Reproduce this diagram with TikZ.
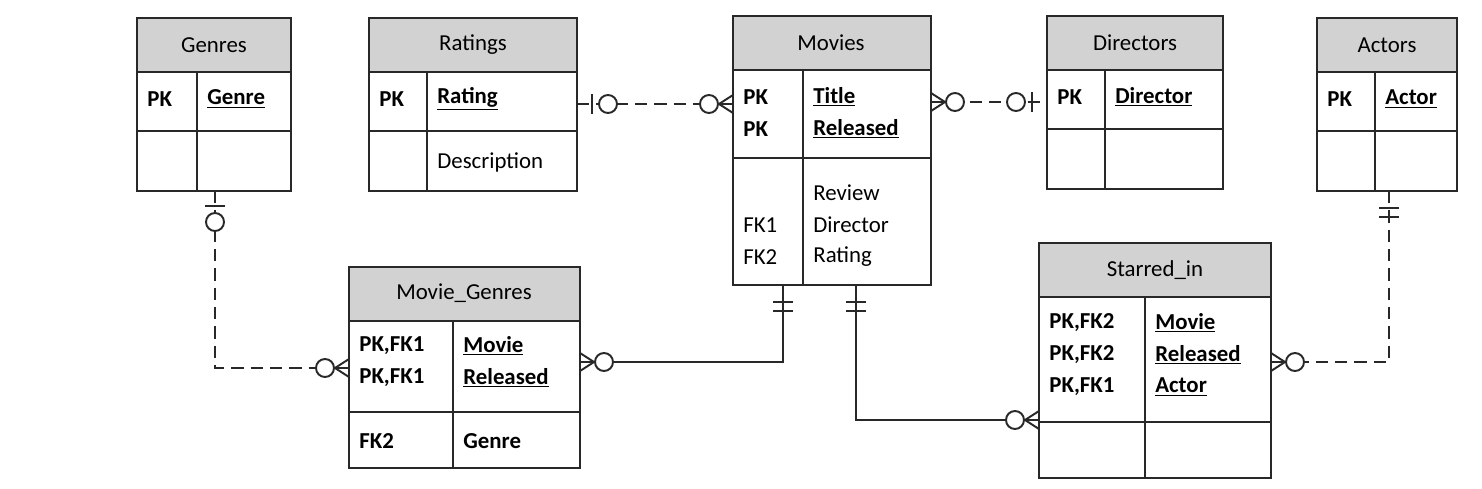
\documentclass[tikz,border=0pt]{standalone}
\usepackage{fontspec}
\setmainfont{Carlito}
\usetikzlibrary{calc}
\definecolor{headgray}{RGB}{210, 210, 210}
\definecolor{linegray}{RGB}{40, 40, 40}

\tikzset{
  px/.style={x=0.02cm, y=0.02cm},
  tbl/.style={draw=linegray, line width=1pt},
  head/.style={fill=headgray},
  txt/.style={anchor=west, inner sep=0pt, font=\fontsize{13}{15}\selectfont},
  ttl/.style={inner sep=0pt, font=\fontsize{13}{15}\selectfont},
  rel/.style={line width=1.1pt, draw=linegray},
  reldash/.style={rel, dash pattern=on 7pt off 4pt},
  crowo/.pic={
    \draw[rel] (0,9) -- (14,0) -- (0,-9) (0,0) -- (14,0);
    \draw[rel, fill=white] (24,0) circle (0.18cm);
  },
  baro/.pic={
    \draw[rel] (15,10) -- (15,-10);
    \draw[rel, fill=white] (31,0) circle (0.18cm);
  },
  barbar/.pic={
    \draw[rel] (17,10) -- (17,-10) (26,10) -- (26,-10);
  }
}
\newcommand{\key}[1]{\textbf{\underline{#1}}}

\begin{document}
\begin{tikzpicture}[px]

  \useasboundingbox (0,0) rectangle (1482,-488);

  % Genres
  \fill[head] (137,-18) rectangle (291,-72);
  \draw[tbl] (137,-18) rectangle (291,-191);
  \draw[tbl] (137,-72) -- (291,-72) (137,-131) -- (291,-131) (197,-72) -- (197,-191);
  \node[ttl] (genres) at (214,-45) {Genres};
  \node[txt] at (147,-99) {\textbf{PK}};
  \node[txt] at (207,-99) {\key{Genre}};
  \coordinate (genres-s) at (215,-191);

  % Ratings
  \fill[head] (369,-18) rectangle (577,-72);
  \draw[tbl] (369,-18) rectangle (577,-191);
  \draw[tbl] (369,-72) -- (577,-72) (369,-131) -- (577,-131) (427,-72) -- (427,-191);
  \node[ttl] (ratings) at (473,-45) {Ratings};
  \node[txt] at (379,-99) {\textbf{PK}};
  \node[txt] at (437,-99) {\key{Rating}};
  \node[txt] at (437,-162) {Description};
  \coordinate (ratings-e) at (577,-104);

  % Movies
  \fill[head] (733,-16) rectangle (931,-70);
  \draw[tbl] (733,-16) rectangle (931,-285);
  \draw[tbl] (733,-70) -- (931,-70) (733,-158) -- (931,-158) (803,-70) -- (803,-285);
  \node[ttl] (movies) at (831,-43) {Movies};
  \node[txt] at (743,-97) {\textbf{PK}};
  \node[txt] at (743,-129) {\textbf{PK}};
  \node[txt] at (813,-97) {\key{Title}};
  \node[txt] at (813,-129) {\key{Released}};
  \node[txt] at (813,-193) {Review};
  \node[txt] at (743,-225) {FK1};
  \node[txt] at (813,-225) {Director};
  \node[txt] at (743,-257) {FK2};
  \node[txt] at (813,-257) {Rating};
  \coordinate (movies-w) at (733,-104);
  \coordinate (movies-e) at (931,-102);
  \coordinate (movies-s1) at (783,-285);
  \coordinate (movies-s2) at (856,-285);

  % Directors
  \fill[head] (1047,-16) rectangle (1223,-70);
  \draw[tbl] (1047,-16) rectangle (1223,-189);
  \draw[tbl] (1047,-70) -- (1223,-70) (1047,-129) -- (1223,-129) (1105,-70) -- (1105,-189);
  \node[ttl] (directors) at (1135,-43) {Directors};
  \node[txt] at (1057,-97) {\textbf{PK}};
  \node[txt] at (1115,-97) {\key{Director}};
  \coordinate (directors-w) at (1047,-102);

  % Actors
  \fill[head] (1317,-18) rectangle (1457,-72);
  \draw[tbl] (1317,-18) rectangle (1457,-191);
  \draw[tbl] (1317,-72) -- (1457,-72) (1317,-131) -- (1457,-131) (1375,-72) -- (1375,-191);
  \node[ttl] (actors) at (1387,-45) {Actors};
  \node[txt] at (1327,-99) {\textbf{PK}};
  \node[txt] at (1385,-99) {\key{Actor}};
  \coordinate (actors-s) at (1389,-191);

  % Movie_Genres
  \fill[head] (349,-267) rectangle (580,-321);
  \draw[tbl] (349,-267) rectangle (580,-468);
  \draw[tbl] (349,-321) -- (580,-321) (349,-412) -- (580,-412) (453,-321) -- (453,-468);
  \node[ttl] (moviegenres) at (464,-293) {Movie\_Genres};
  \node[txt] at (359,-346) {\textbf{PK,FK1}};
  \node[txt] at (359,-378) {\textbf{PK,FK1}};
  \node[txt] at (463,-346) {\key{Movie}};
  \node[txt] at (463,-378) {\key{Released}};
  \node[txt] at (359,-441) {\textbf{FK2}};
  \node[txt] at (463,-441) {\textbf{Genre}};
  \coordinate (moviegenres-w) at (349,-368);
  \coordinate (moviegenres-e) at (580,-362);

  % Starred_in
  \fill[head] (1039,-243) rectangle (1271,-297);
  \draw[tbl] (1039,-243) rectangle (1271,-478);
  \draw[tbl] (1039,-297) -- (1271,-297) (1039,-422) -- (1271,-422) (1145,-297) -- (1145,-478);
  \node[ttl] (starredin) at (1155,-270) {Starred\_in};
  \node[txt] at (1049,-323) {\textbf{PK,FK2}};
  \node[txt] at (1049,-355) {\textbf{PK,FK2}};
  \node[txt] at (1049,-387) {\textbf{PK,FK1}};
  \node[txt] at (1155,-323) {\key{Movie}};
  \node[txt] at (1155,-355) {\key{Released}};
  \node[txt] at (1155,-387) {\key{Actor}};
  \coordinate (starredin-w) at (1039,-420);
  \coordinate (starredin-e) at (1271,-362);

  % relationships
  \draw[reldash] (ratings-e) -- (movies-w);
  \draw[reldash] (movies-e) -- (directors-w);
  \draw[reldash] (genres-s) |- (moviegenres-w);
  \draw[rel] (movies-s1) |- (moviegenres-e);
  \draw[rel] (movies-s2) |- (starredin-w);
  \draw[reldash] (actors-s) |- (starredin-e);

  \pic at (ratings-e) {baro};
  \pic[rotate=180] at (movies-w) {crowo};
  \pic at (movies-e) {crowo};
  \pic[rotate=180] at (directors-w) {baro};
  \pic[rotate=-90] at (genres-s) {baro};
  \pic[rotate=180] at (moviegenres-w) {crowo};
  \pic[rotate=-90] at (movies-s1) {barbar};
  \pic at (moviegenres-e) {crowo};
  \pic[rotate=-90] at (movies-s2) {barbar};
  \pic[rotate=180] at (starredin-w) {crowo};
  \pic[rotate=-90] at (actors-s) {barbar};
  \pic at (starredin-e) {crowo};

\end{tikzpicture}
\end{document}
